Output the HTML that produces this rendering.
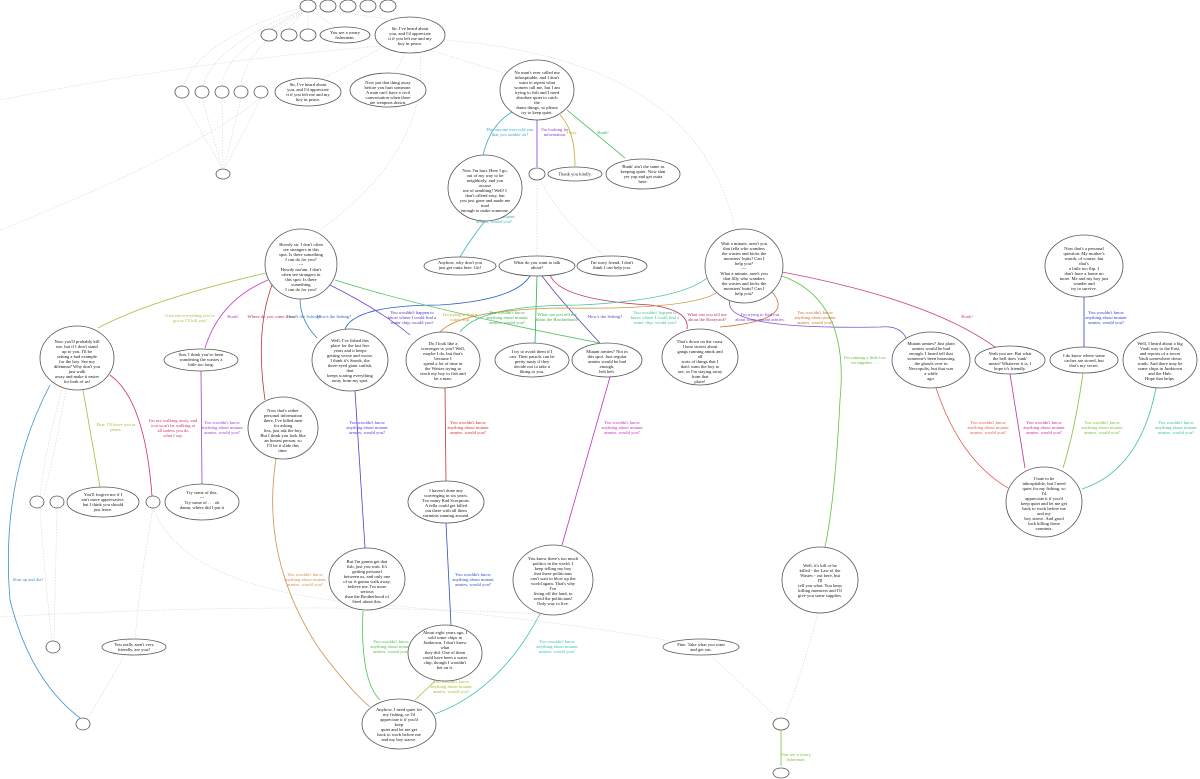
<!DOCTYPE html>
<html><head><meta charset="utf-8"><style>
html,body{margin:0;padding:0;background:#fff;}
svg{display:block;}
text{font-family:"Liberation Serif",serif;}
.n{fill:#fff;stroke:#555;stroke-width:0.8;}
.t{font-size:4.6px;fill:#111;text-anchor:middle;}
.l{font-size:4.6px;text-anchor:middle;}
.e{fill:none;stroke-width:0.8;}
.g{stroke:#d4d4d4;stroke-width:0.6;stroke-dasharray:1.5,1.5;}
</style></head><body>
<svg width="1200" height="779" viewBox="0 0 1200 779" xmlns="http://www.w3.org/2000/svg">
<!-- gray dotted edges -->
<g class="e g">
<path d="M308,6 L269,29"/><path d="M308,6 L289,29"/><path d="M308,6 L308,29"/><path d="M312,11 L335,27"/><path d="M316,9 Q360,15 395,20"/>
<path d="M300,8 Q200,40 184,85"/><path d="M302,10 Q215,45 203,85"/><path d="M305,11 Q225,50 222,85"/><path d="M305,11 Q245,50 241,85"/>
<path d="M395,45 Q200,60 0,100"/>
<path d="M385,46 L320,80"/><path d="M405,53 L395,73"/><path d="M430,50 L510,75"/>
<path d="M260,98 Q200,150 0,230"/>
<path d="M420,53 Q430,150 320,230"/>
<path d="M444,40 Q700,60 735,230"/>
<path d="M182,98 L222,168"/><path d="M202,98 L222,168"/><path d="M222,98 L223,168"/><path d="M241,98 L224,168"/><path d="M261,98 L225,168"/>
<path d="M537,179 L537,256"/><path d="M540,179 Q560,220 605,256"/>
<path d="M62,390 Q45,450 40,496"/><path d="M66,390 Q55,450 44,496"/>
<path d="M40,508 Q45,580 52,641"/><path d="M57,508 L54,641"/>
<path d="M153,508 Q140,580 135,639"/>
<path d="M153,508 Q180,580 330,600 Q560,620 670,641"/>
<path d="M125,655 L88,718"/>
<path d="M0,617 Q300,600 560,615"/>
<path d="M710,655 L778,718"/><path d="M818,613 Q800,680 784,718"/>
</g>
<!-- colored edges -->
<g class="e">
<path d="M512,112 Q490,125 483,155" stroke="#3aa8c8"/>
<path d="M537,120 L537,167" stroke="#8a3ad0"/>
<path d="M560,115 Q575,130 575,166" stroke="#c8a830"/>
<path d="M567,110 L625,158" stroke="#3ab850"/>
<path d="M485,221 Q470,240 460,257" stroke="#3ab0c0"/>
<path d="M530,276 Q515,300 440,305 Q355,305 345,329" stroke="#2a60c0"/>
<path d="M537,276 L535,343" stroke="#30b040"/>
<path d="M542,276 Q560,300 600,343" stroke="#6040b0"/>
<path d="M550,275 Q560,300 650,305 Q690,310 687,329" stroke="#c03060"/>
<path d="M335,280 Q430,310 600,343" stroke="#50c060"/>
<path d="M330,285 Q380,310 410,335" stroke="#7040d0"/>
<path d="M300,299 Q300,320 317,338" stroke="#3a80c0"/>
<path d="M266,273 Q150,300 98,328" stroke="#a8c040"/>
<path d="M268,280 Q220,300 205,348" stroke="#c040d0"/>
<path d="M272,285 Q255,330 265,400" stroke="#c03040"/>
<path d="M707,278 Q680,300 580,305 Q480,305 460,332" stroke="#40c090"/>
<path d="M720,290 Q700,310 560,308 Q460,310 440,332" stroke="#d09030"/>
<path d="M770,290 Q800,320 720,327" stroke="#d07030"/>
<path d="M730,300 Q720,330 880,327 Q900,325 906,338" stroke="#8050d0"/>
<path d="M782,272 Q930,300 995,347" stroke="#d04080"/>
<path d="M782,276 Q850,300 840,400 Q835,500 825,547" stroke="#60c040"/>
<path d="M1084,297 L1084,347" stroke="#3040d0"/>
<path d="M50,385 Q0,480 10,600 Q30,680 80,718" stroke="#3a90d0"/>
<path d="M83,390 L100,487" stroke="#a0c040"/>
<path d="M110,375 Q145,400 152,496" stroke="#d03060"/>
<path d="M201,371 L202,484" stroke="#a040d0"/>
<path d="M276,459 Q260,560 320,650 Q350,690 370,707" stroke="#d09050"/>
<path d="M355,391 L365,548" stroke="#5040d0"/>
<path d="M445,388 L446,481" stroke="#d03030"/>
<path d="M446,523 L451,625" stroke="#3050c0"/>
<path d="M610,377 L562,545" stroke="#c030c0"/>
<path d="M363,611 Q360,680 380,700" stroke="#50c050"/>
<path d="M435,681 L415,700" stroke="#a0c040"/>
<path d="M540,614 Q500,690 435,714" stroke="#40c0b0"/>
<path d="M936,388 Q960,460 1008,488" stroke="#e06050"/>
<path d="M1010,374 L1025,468" stroke="#c030a0"/>
<path d="M1083,373 Q1075,430 1063,468" stroke="#80c040"/>
<path d="M1156,388 Q1140,470 1082,489" stroke="#40c090"/>
<path d="M781,730 L781,766" stroke="#80c040"/>
</g>
<!-- labels -->
<g class="l">
<text fill="#3aa8c8"><tspan x="510" y="131">Has anyone ever told you</tspan><tspan x="510" dy="5">that you ramble on?</tspan></text>
<text fill="#8a3ad0"><tspan x="555" y="131">I'm looking for</tspan><tspan x="555" dy="5">information.</tspan></text>
<text x="572" y="134" fill="#c8a830">Okay.</text>
<text x="603" y="134" fill="#3ab850">Bunk!</text>
<text fill="#3ab0c0"><tspan x="494" y="213">You wouldn't know</tspan><tspan x="494" dy="5">anything about mutant</tspan><tspan x="494" dy="5">armies, would you?</tspan></text>
<text fill="#a8c040"><tspan x="190" y="317">Give me everything you've</tspan><tspan x="190" dy="5">got or I'll kill you!</tspan></text>
<text x="233" y="318" fill="#c040d0">Bunk!</text>
<text x="272" y="318" fill="#c03040">Where do you come from?</text>
<text x="304" y="318" fill="#3a80c0">How's the fishing?</text>
<text x="334" y="318" fill="#2a60c0">How's the fishing?</text>
<text fill="#5030c0"><tspan x="412" y="314">You wouldn't happen to</tspan><tspan x="412" dy="5">know where I could find a</tspan><tspan x="412" dy="5">water chip, would you?</tspan></text>
<text fill="#c8a030"><tspan x="460" y="316">I'm trying to find a</tspan><tspan x="460" dy="5">water chip.</tspan></text>
<text fill="#40b050"><tspan x="507" y="314">You wouldn't know</tspan><tspan x="507" dy="5">anything about mutant</tspan><tspan x="507" dy="5">armies, would you?</tspan></text>
<text fill="#30b040"><tspan x="557" y="316">What can you tell me</tspan><tspan x="557" dy="5">about the Brotherhood?</tspan></text>
<text x="605" y="318" fill="#6040c0">How's the fishing?</text>
<text fill="#40c090"><tspan x="655" y="314">You wouldn't happen to</tspan><tspan x="655" dy="5">know where I could find a</tspan><tspan x="655" dy="5">water chip, would you?</tspan></text>
<text fill="#c03050"><tspan x="707" y="316">What can you tell me</tspan><tspan x="707" dy="5">about the Boneyard?</tspan></text>
<text fill="#8040d0"><tspan x="760" y="316">I'm trying to find out</tspan><tspan x="760" dy="5">about some mutant armies.</tspan></text>
<text fill="#d07030"><tspan x="815" y="314">You wouldn't know</tspan><tspan x="815" dy="5">anything about mutant</tspan><tspan x="815" dy="5">armies, would you?</tspan></text>
<text x="967" y="318" fill="#d04080">Bunk!</text>
<text fill="#3040d0"><tspan x="1106" y="314">You wouldn't know</tspan><tspan x="1106" dy="5">anything about mutant</tspan><tspan x="1106" dy="5">armies, would you?</tspan></text>
<text fill="#60c040"><tspan x="865" y="359">I'm running a little low</tspan><tspan x="865" dy="5">on supplies . . .</tspan></text>
<text fill="#a0c040"><tspan x="116" y="426">Fine. I'll leave you in</tspan><tspan x="116" dy="5">peace.</tspan></text>
<text fill="#d03060"><tspan x="173" y="422">I'm not walking away, and</tspan><tspan x="173" dy="5">you won't be walking at</tspan><tspan x="173" dy="5">all unless you do</tspan><tspan x="173" dy="5">what I say.</tspan></text>
<text fill="#a040d0"><tspan x="222" y="424">You wouldn't know</tspan><tspan x="222" dy="5">anything about mutant</tspan><tspan x="222" dy="5">armies, would you?</tspan></text>
<text fill="#5040d0"><tspan x="367" y="424">You wouldn't know</tspan><tspan x="367" dy="5">anything about mutant</tspan><tspan x="367" dy="5">armies, would you?</tspan></text>
<text fill="#d03030"><tspan x="468" y="424">You wouldn't know</tspan><tspan x="468" dy="5">anything about mutant</tspan><tspan x="468" dy="5">armies, would you?</tspan></text>
<text fill="#c030c0"><tspan x="622" y="424">You wouldn't know</tspan><tspan x="622" dy="5">anything about mutant</tspan><tspan x="622" dy="5">armies, would you?</tspan></text>
<text fill="#e06050"><tspan x="988" y="424">You wouldn't know</tspan><tspan x="988" dy="5">anything about mutant</tspan><tspan x="988" dy="5">armies, would you?</tspan></text>
<text fill="#c030a0"><tspan x="1044" y="424">You wouldn't know</tspan><tspan x="1044" dy="5">anything about mutant</tspan><tspan x="1044" dy="5">armies, would you?</tspan></text>
<text fill="#80c040"><tspan x="1102" y="424">You wouldn't know</tspan><tspan x="1102" dy="5">anything about mutant</tspan><tspan x="1102" dy="5">armies, would you?</tspan></text>
<text fill="#40c090"><tspan x="1176" y="424">You wouldn't know</tspan><tspan x="1176" dy="5">anything about mutant</tspan><tspan x="1176" dy="5">armies, would you?</tspan></text>
<text x="28" y="581" fill="#3a90d0">Shut up and die!</text>
<text fill="#d09050"><tspan x="305" y="576">You wouldn't know</tspan><tspan x="305" dy="5">anything about mutant</tspan><tspan x="305" dy="5">armies, would you?</tspan></text>
<text fill="#3050c0"><tspan x="473" y="576">You wouldn't know</tspan><tspan x="473" dy="5">anything about mutant</tspan><tspan x="473" dy="5">armies, would you?</tspan></text>
<text fill="#50c050"><tspan x="391" y="643">You wouldn't know</tspan><tspan x="391" dy="5">anything about mutant</tspan><tspan x="391" dy="5">armies, would you?</tspan></text>
<text fill="#40c0b0"><tspan x="557" y="643">You wouldn't know</tspan><tspan x="557" dy="5">anything about mutant</tspan><tspan x="557" dy="5">armies, would you?</tspan></text>
<text fill="#a0c040"><tspan x="451" y="683">You wouldn't know</tspan><tspan x="451" dy="5">anything about mutant</tspan><tspan x="451" dy="5">armies, would you?</tspan></text>
<text fill="#80c040"><tspan x="796" y="756">You see a weary</tspan><tspan x="796" dy="5">fisherman.</tspan></text>
</g>
<!-- nodes -->
<g>
<ellipse class="n" cx="308" cy="6" rx="8" ry="6"/><ellipse class="n" cx="328" cy="6" rx="8" ry="6"/><ellipse class="n" cx="348" cy="6" rx="8" ry="6"/><ellipse class="n" cx="368" cy="6" rx="8" ry="6"/><ellipse class="n" cx="388" cy="6" rx="8" ry="6"/>
<ellipse class="n" cx="269" cy="35" rx="8" ry="6"/><ellipse class="n" cx="289" cy="35" rx="8" ry="6"/><ellipse class="n" cx="308" cy="35" rx="8" ry="6"/>
<ellipse class="n" cx="345" cy="35" rx="25" ry="8"/>
<text class="t"><tspan x="345" y="34">You see a weary</tspan><tspan x="345" dy="5">fisherman.</tspan></text>
<ellipse class="n" cx="410" cy="35" rx="35" ry="18"/>
<text class="t"><tspan x="410" y="30">Sir, I've heard about</tspan><tspan x="410" dy="5">you, and I'd appreciate</tspan><tspan x="410" dy="5">it if you left me and my</tspan><tspan x="410" dy="5">boy in peace.</tspan></text>
<ellipse class="n" cx="182" cy="92" rx="7" ry="6"/><ellipse class="n" cx="202" cy="92" rx="7" ry="6"/><ellipse class="n" cx="222" cy="92" rx="7" ry="6"/><ellipse class="n" cx="241" cy="92" rx="7" ry="6"/><ellipse class="n" cx="261" cy="92" rx="7" ry="6"/>
<ellipse class="n" cx="308" cy="92" rx="33" ry="14"/>
<text class="t"><tspan x="308" y="86">Sir, I've heard about</tspan><tspan x="308" dy="5">you, and I'd appreciate</tspan><tspan x="308" dy="5">it if you left me and my</tspan><tspan x="308" dy="5">boy in peace.</tspan></text>
<ellipse class="n" cx="388" cy="90" rx="38" ry="17"/>
<text class="t"><tspan x="388" y="84">Now put that thing away</tspan><tspan x="388" dy="5">before you hurt someone.</tspan><tspan x="388" dy="5">A man can't have a civil</tspan><tspan x="388" dy="5">conversation when there</tspan><tspan x="388" dy="5">are weapons drawn.</tspan></text>
<ellipse class="n" cx="537" cy="90" rx="37" ry="30"/>
<text class="t"><tspan x="537" y="74">No man's ever called me</tspan><tspan x="537" dy="5">inhospitable, and I don't</tspan><tspan x="537" dy="5">want to repeat what</tspan><tspan x="537" dy="5">women call me, but I am</tspan><tspan x="537" dy="5">trying to fish and I need</tspan><tspan x="537" dy="5">absolute quiet to catch</tspan><tspan x="537" dy="5">the</tspan><tspan x="537" dy="5">durns things, so please</tspan><tspan x="537" dy="5">try to keep quiet.</tspan></text>
<ellipse class="n" cx="223" cy="174" rx="7" ry="5"/>
<ellipse class="n" cx="485" cy="188" rx="37" ry="33"/>
<text class="t"><tspan x="485" y="172">Now I'm hurt. Here I go,</tspan><tspan x="485" dy="5">out of my way to be</tspan><tspan x="485" dy="5">neighborly, and you</tspan><tspan x="485" dy="5">accuse</tspan><tspan x="485" dy="5">me of rambling! Well! I</tspan><tspan x="485" dy="5">don't offend easy, but</tspan><tspan x="485" dy="5">you just gone and made me</tspan><tspan x="485" dy="5">mad</tspan><tspan x="485" dy="5">enough to make someone.</tspan></text>
<ellipse class="n" cx="537" cy="174" rx="8" ry="6"/>
<ellipse class="n" cx="575" cy="174" rx="27" ry="7"/>
<text class="t" x="575" y="175.5">Thank you kindly.</text>
<ellipse class="n" cx="643" cy="174" rx="37" ry="15"/>
<text class="t"><tspan x="643" y="168">'Bunk' ain't the same as</tspan><tspan x="643" dy="5">keeping quiet. Now shut</tspan><tspan x="643" dy="5">yer yap and get outta</tspan><tspan x="643" dy="5">here.</tspan></text>
<ellipse class="n" cx="460" cy="266" rx="36" ry="9"/>
<text class="t"><tspan x="460" y="264">Anyhow, why don't you</tspan><tspan x="460" dy="5">just get outta here. Git!</tspan></text>
<ellipse class="n" cx="537" cy="266" rx="38" ry="10"/>
<text class="t"><tspan x="537" y="264">What do you want to talk</tspan><tspan x="537" dy="5">about?</tspan></text>
<ellipse class="n" cx="612" cy="266" rx="35" ry="10"/>
<text class="t"><tspan x="612" y="264">I'm sorry friend, I don't</tspan><tspan x="612" dy="5">think I can help you.</tspan></text>
<ellipse class="n" cx="301" cy="264" rx="36" ry="35"/>
<text class="t"><tspan x="301" y="246">Howdy sir. I don't often</tspan><tspan x="301" dy="5">see strangers in this</tspan><tspan x="301" dy="5">spot. Is there something</tspan><tspan x="301" dy="5">I can do for you?</tspan><tspan x="301" dy="5">---</tspan><tspan x="301" dy="5">Howdy ma'am. I don't</tspan><tspan x="301" dy="5">often see strangers in</tspan><tspan x="301" dy="5">this spot. Is there</tspan><tspan x="301" dy="5">something</tspan><tspan x="301" dy="5">I can do for you?</tspan></text>
<ellipse class="n" cx="744" cy="266" rx="39" ry="37"/>
<text class="t"><tspan x="744" y="245">Wait a minute, aren't you</tspan><tspan x="744" dy="5">that fella who wanders</tspan><tspan x="744" dy="5">the wastes and kicks the</tspan><tspan x="744" dy="5">monsters' butts? Can I</tspan><tspan x="744" dy="5">help you?</tspan><tspan x="744" dy="5">---</tspan><tspan x="744" dy="5">What a minute, aren't you</tspan><tspan x="744" dy="5">that filly who wanders</tspan><tspan x="744" dy="5">the wastes and kicks the</tspan><tspan x="744" dy="5">monsters' butts? Can I</tspan><tspan x="744" dy="5">help you?</tspan></text>
<ellipse class="n" cx="1084" cy="266" rx="39" ry="31"/>
<text class="t"><tspan x="1084" y="250">Now that's a personal</tspan><tspan x="1084" dy="5">question. My mother's</tspan><tspan x="1084" dy="5">womb, of course, but</tspan><tspan x="1084" dy="5">that's</tspan><tspan x="1084" dy="5">a little too flip. I</tspan><tspan x="1084" dy="5">don't have a home no</tspan><tspan x="1084" dy="5">more. Me and my boy just</tspan><tspan x="1084" dy="5">wander and</tspan><tspan x="1084" dy="5">try to survive.</tspan></text>
<ellipse class="n" cx="77" cy="358" rx="37" ry="32"/>
<text class="t"><tspan x="77" y="343">Now you'll probably kill</tspan><tspan x="77" dy="5">me, but if I don't stand</tspan><tspan x="77" dy="5">up to you, I'll be</tspan><tspan x="77" dy="5">setting a bad example</tspan><tspan x="77" dy="5">for the boy. See my</tspan><tspan x="77" dy="5">dilemma? Why don't you</tspan><tspan x="77" dy="5">just walk</tspan><tspan x="77" dy="5">away and make it easier</tspan><tspan x="77" dy="5">for both of us!</tspan></text>
<ellipse class="n" cx="201" cy="360" rx="37" ry="11"/>
<text class="t"><tspan x="201" y="356">Son, I think you've been</tspan><tspan x="201" dy="5">wandering the wastes a</tspan><tspan x="201" dy="5">little too long.</tspan></text>
<ellipse class="n" cx="350" cy="360" rx="38" ry="31"/>
<text class="t"><tspan x="350" y="342">Well, I've fished this</tspan><tspan x="350" dy="5">place for the last five</tspan><tspan x="350" dy="5">years and it keeps</tspan><tspan x="350" dy="5">getting worse and worse.</tspan><tspan x="350" dy="5">I think it's Snook, the</tspan><tspan x="350" dy="5">three-eyed giant catfish,</tspan><tspan x="350" dy="5">that</tspan><tspan x="350" dy="5">keeps scaring everything</tspan><tspan x="350" dy="5">away from my spot.</tspan></text>
<ellipse class="n" cx="443" cy="360" rx="37" ry="28"/>
<text class="t"><tspan x="443" y="345">Do I look like a</tspan><tspan x="443" dy="5">scavenger to you? Well,</tspan><tspan x="443" dy="5">maybe I do, but that's</tspan><tspan x="443" dy="5">because I</tspan><tspan x="443" dy="5">spend a lot of time in</tspan><tspan x="443" dy="5">the Wastes trying to</tspan><tspan x="443" dy="5">teach my boy to fish and</tspan><tspan x="443" dy="5">be a man.</tspan></text>
<ellipse class="n" cx="532" cy="360" rx="37" ry="17"/>
<text class="t"><tspan x="532" y="353">I try to avoid them if I</tspan><tspan x="532" dy="5">can. Their patrols can be</tspan><tspan x="532" dy="5">pretty nasty if they</tspan><tspan x="532" dy="5">decide not to take a</tspan><tspan x="532" dy="5">liking to you.</tspan></text>
<ellipse class="n" cx="607" cy="360" rx="35" ry="17"/>
<text class="t"><tspan x="607" y="353">Mutant armies? Not in</tspan><tspan x="607" dy="5">this spot. Just regular</tspan><tspan x="607" dy="5">armies would be bad</tspan><tspan x="607" dy="5">enough,</tspan><tspan x="607" dy="5">heh heh.</tspan></text>
<ellipse class="n" cx="700" cy="357" rx="38" ry="28"/>
<text class="t"><tspan x="700" y="343">That's down on the coast.</tspan><tspan x="700" dy="5">I hear stories about</tspan><tspan x="700" dy="5">gangs running amok and</tspan><tspan x="700" dy="5">all</tspan><tspan x="700" dy="5">sorts of things that I</tspan><tspan x="700" dy="5">don't want the boy to</tspan><tspan x="700" dy="5">see, so I'm staying away</tspan><tspan x="700" dy="5">from that</tspan><tspan x="700" dy="5">place!</tspan></text>
<ellipse class="n" cx="931" cy="360" rx="39" ry="28"/>
<text class="t"><tspan x="931" y="345">Mutant armies? Just plain</tspan><tspan x="931" dy="5">armies would be bad</tspan><tspan x="931" dy="5">enough. I heard tell that</tspan><tspan x="931" dy="5">someone's been harassing</tspan><tspan x="931" dy="5">the ghouls over in</tspan><tspan x="931" dy="5">Necropolis, but that was</tspan><tspan x="931" dy="5">a while</tspan><tspan x="931" dy="5">ago.</tspan></text>
<ellipse class="n" cx="1010" cy="360" rx="35" ry="14"/>
<text class="t"><tspan x="1010" y="355">Yeah you are. But what</tspan><tspan x="1010" dy="5">the hell does 'runk'</tspan><tspan x="1010" dy="5">mean? Whatever it is, I</tspan><tspan x="1010" dy="5">hope it's friendly.</tspan></text>
<ellipse class="n" cx="1084" cy="360" rx="34" ry="13"/>
<text class="t"><tspan x="1084" y="357">I do know where some</tspan><tspan x="1084" dy="5">caches are stored, but</tspan><tspan x="1084" dy="5">that's my secret.</tspan></text>
<ellipse class="n" cx="1160" cy="360" rx="37" ry="28"/>
<text class="t"><tspan x="1160" y="345">Well, I heard about a big</tspan><tspan x="1160" dy="5">Vault way to the East,</tspan><tspan x="1160" dy="5">and reports of a secret</tspan><tspan x="1160" dy="5">Vault somewhere down</tspan><tspan x="1160" dy="5">south. And there may be</tspan><tspan x="1160" dy="5">some chips in Junktown</tspan><tspan x="1160" dy="5">and the Hub.</tspan><tspan x="1160" dy="5">Hope that helps.</tspan></text>
<ellipse class="n" cx="283" cy="428" rx="35" ry="31"/>
<text class="t"><tspan x="283" y="412">Now that's rather</tspan><tspan x="283" dy="5">personal information</tspan><tspan x="283" dy="5">there. I've killed men</tspan><tspan x="283" dy="5">for asking</tspan><tspan x="283" dy="5">less, just ask the boy.</tspan><tspan x="283" dy="5">But I think you look like</tspan><tspan x="283" dy="5">an honest person, so</tspan><tspan x="283" dy="5">I'll let it slide this</tspan><tspan x="283" dy="5">time.</tspan></text>
<ellipse class="n" cx="37" cy="502" rx="7" ry="6"/><ellipse class="n" cx="57" cy="502" rx="7" ry="6"/>
<ellipse class="n" cx="103" cy="502" rx="36" ry="15"/>
<text class="t"><tspan x="103" y="496">You'll forgive me if I</tspan><tspan x="103" dy="5">ain't more appreciative,</tspan><tspan x="103" dy="5">but I think you should</tspan><tspan x="103" dy="5">just leave.</tspan></text>
<ellipse class="n" cx="153" cy="502" rx="7" ry="6"/>
<ellipse class="n" cx="202" cy="502" rx="37" ry="18"/>
<text class="t"><tspan x="202" y="494">Try some of this.</tspan><tspan x="202" dy="5">---</tspan><tspan x="202" dy="5">Try some of . . . oh</tspan><tspan x="202" dy="5">damn, where did I put it</tspan><tspan x="202" dy="5">. . .</tspan></text>
<ellipse class="n" cx="446" cy="502" rx="38" ry="21"/>
<text class="t"><tspan x="446" y="492">I haven't done any</tspan><tspan x="446" dy="5">scavenging in six years.</tspan><tspan x="446" dy="5">Too many Rad Scorpions.</tspan><tspan x="446" dy="5">A fella could get killed</tspan><tspan x="446" dy="5">out there with all them</tspan><tspan x="446" dy="5">varmints running around.</tspan></text>
<ellipse class="n" cx="1044" cy="502" rx="38" ry="35"/>
<text class="t"><tspan x="1044" y="480">I hate to be</tspan><tspan x="1044" dy="5">inhospitable, but I need</tspan><tspan x="1044" dy="5">quiet for my fishing, so</tspan><tspan x="1044" dy="5">I'd</tspan><tspan x="1044" dy="5">appreciate it if you'd</tspan><tspan x="1044" dy="5">keep quiet and let me get</tspan><tspan x="1044" dy="5">back to work before me</tspan><tspan x="1044" dy="5">and my</tspan><tspan x="1044" dy="5">boy starve. And good</tspan><tspan x="1044" dy="5">luck killing those</tspan><tspan x="1044" dy="5">varmints.</tspan></text>
<ellipse class="n" cx="367" cy="579" rx="38" ry="31"/>
<text class="t"><tspan x="367" y="563">But I'm gonna get that</tspan><tspan x="367" dy="5">fish, just you wait. It's</tspan><tspan x="367" dy="5">getting personal</tspan><tspan x="367" dy="5">between us, and only one</tspan><tspan x="367" dy="5">of us is gonna walk away,</tspan><tspan x="367" dy="5">believe me. I'm more</tspan><tspan x="367" dy="5">serious</tspan><tspan x="367" dy="5">than the Brotherhood of</tspan><tspan x="367" dy="5">Steel about this.</tspan></text>
<ellipse class="n" cx="553" cy="580" rx="40" ry="35"/>
<text class="t"><tspan x="553" y="560">You know there's too much</tspan><tspan x="553" dy="5">politics in the world. I</tspan><tspan x="553" dy="5">keep telling my boy</tspan><tspan x="553" dy="5">that these politicians</tspan><tspan x="553" dy="5">can't wait to blow up the</tspan><tspan x="553" dy="5">world again. That's why</tspan><tspan x="553" dy="5">I'm</tspan><tspan x="553" dy="5">living off the land, to</tspan><tspan x="553" dy="5">avoid the politicians!</tspan><tspan x="553" dy="5">Only way to live.</tspan></text>
<ellipse class="n" cx="820" cy="580" rx="38" ry="33"/>
<text class="t"><tspan x="820" y="567">Well, it's kill or be</tspan><tspan x="820" dy="5">killed - the Law of the</tspan><tspan x="820" dy="5">Wastes - out here, but</tspan><tspan x="820" dy="5">I'll</tspan><tspan x="820" dy="5">tell you what. You keep</tspan><tspan x="820" dy="5">killing monsters and I'll</tspan><tspan x="820" dy="5">give you some supplies.</tspan></text>
<ellipse class="n" cx="445" cy="653" rx="37" ry="28"/>
<text class="t"><tspan x="445" y="634">About eight years ago, I</tspan><tspan x="445" dy="5">sold some chips in</tspan><tspan x="445" dy="5">Junktown. I don't know</tspan><tspan x="445" dy="5">what</tspan><tspan x="445" dy="5">they did. One of them</tspan><tspan x="445" dy="5">could have been a water</tspan><tspan x="445" dy="5">chip, though I wouldn't</tspan><tspan x="445" dy="5">bet on it.</tspan></text>
<ellipse class="n" cx="701" cy="647" rx="38" ry="8"/>
<text class="t"><tspan x="701" y="646">Fine. Take what you want</tspan><tspan x="701" dy="5">and get out.</tspan></text>
<ellipse class="n" cx="53" cy="647" rx="7" ry="6"/>
<ellipse class="n" cx="134" cy="647" rx="32" ry="8"/>
<text class="t"><tspan x="134" y="646">You really aren't very</tspan><tspan x="134" dy="5">friendly, are you?</tspan></text>
<ellipse class="n" cx="399" cy="724" rx="37" ry="25"/>
<text class="t"><tspan x="399" y="711">Anyhow, I need quiet for</tspan><tspan x="399" dy="5">my fishing, so I'd</tspan><tspan x="399" dy="5">appreciate it if you'd</tspan><tspan x="399" dy="5">keep</tspan><tspan x="399" dy="5">quiet and let me get</tspan><tspan x="399" dy="5">back to work before me</tspan><tspan x="399" dy="5">and my boy starve.</tspan></text>
<ellipse class="n" cx="83" cy="724" rx="7" ry="6"/>
<ellipse class="n" cx="781" cy="724" rx="8" ry="6"/>
<ellipse class="n" cx="781" cy="773" rx="8" ry="5"/>
</g>
</svg>
</body></html>
